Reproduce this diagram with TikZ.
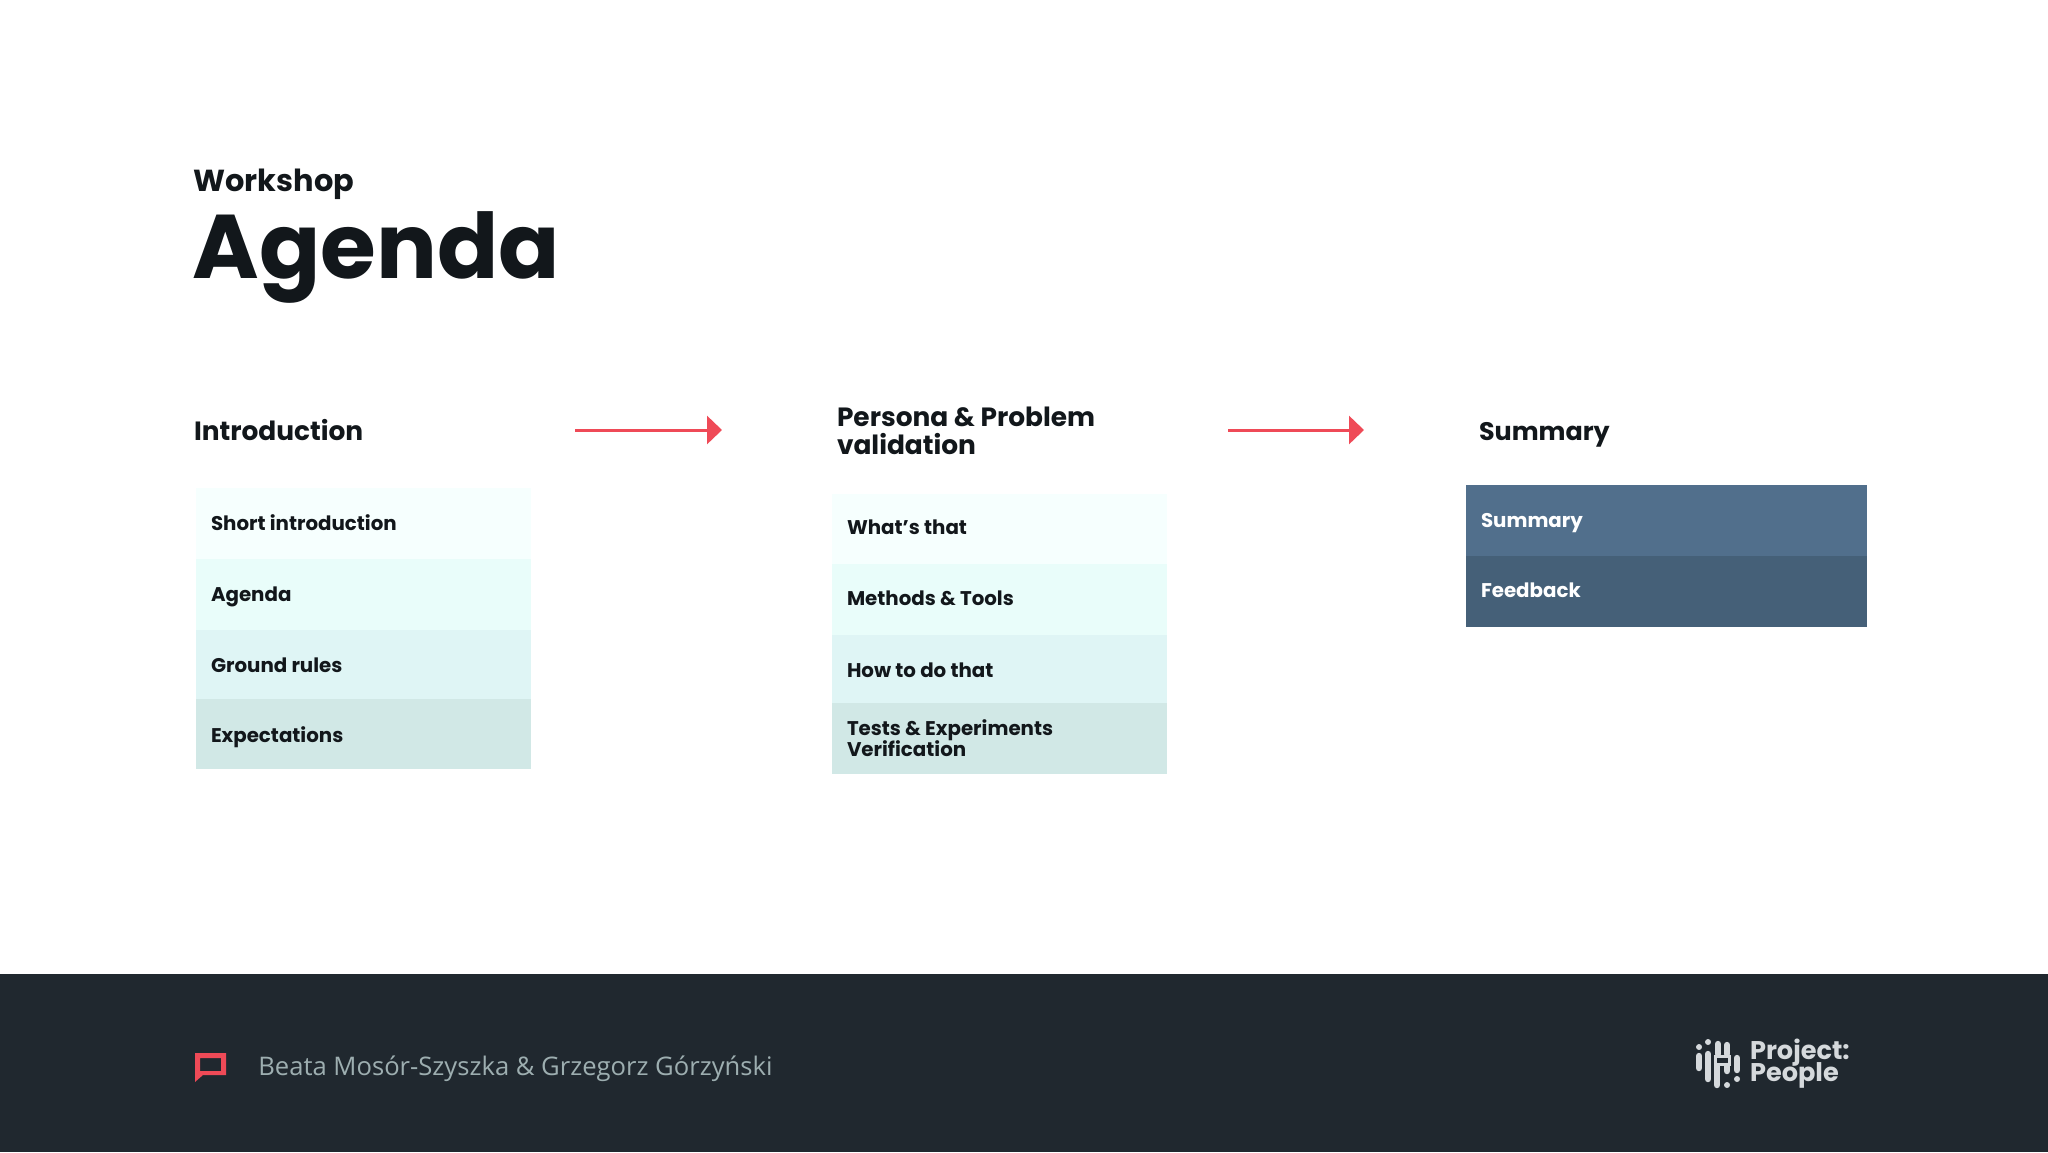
\documentclass[tikz,border=0pt]{standalone}
\usepackage{fontspec}
\setmainfont{Poppins}
\newfontfamily\footfont{Open Sans}
\usetikzlibrary{arrows.meta}
\newcommand\tightlines{\setlength{\lineskiplimit}{-20pt}}
\definecolor{inkc}{HTML}{12171B}
\definecolor{redc}{HTML}{EF4A57}
\definecolor{footc}{HTML}{20282F}
\definecolor{greyc}{HTML}{9DAEB0}
\definecolor{logoc}{HTML}{D5D9DC}
\definecolor{ta}{HTML}{F6FFFE}
\definecolor{tb}{HTML}{E9FDFA}
\definecolor{tc}{HTML}{DFF5F5}
\definecolor{td}{HTML}{D1E8E6}
\definecolor{ba}{HTML}{516F8C}
\definecolor{bb}{HTML}{456078}
\tikzset{
  x=0.5pt,y=-0.5pt,
  band/.style={fill=#1,draw=none},
  lab/.style={anchor=base west,inner sep=0pt,outer sep=0pt,font=\bfseries\fontsize{9.9}{10}\selectfont,text=inkc},
  lablight/.style={lab,text=white},
  head/.style={anchor=base west,inner sep=0pt,outer sep=0pt,align=left,font=\bfseries\fontsize{13.2}{13.8}\selectfont,text=inkc},
  flow/.style={draw=redc,line width=1.5pt,-{Triangle[length=7.5pt,width=14pt,fill=redc]}},
  logobar/.style={draw=logoc,line width=3.2pt,line cap=round},
  logodot/.style={fill=logoc,draw=none},
  logotext/.style={anchor=base west,inner sep=0pt,outer sep=0pt,align=left,font=\bfseries\fontsize{12.8}{10.8}\selectfont\tightlines,text=logoc}
}
\begin{document}
\begin{tikzpicture}
\useasboundingbox (0,0) rectangle (2048,1152);
\fill[white] (0,0) rectangle (2048,1152);
\fill[footc] (0,974) rectangle (2048,1152);
% titles
\node[anchor=base west,inner sep=0pt,font=\bfseries\fontsize{15.2}{15.5}\selectfont,text=inkc] (wk) at (193,191) {Workshop};
\node[anchor=base west,inner sep=0pt,font=\bfseries\fontsize{45.2}{45.2}\selectfont,text=inkc] (ag) at (192,278) {Agenda};
% headings
\node[head] (h1) at (194,440) {Introduction};
\node[head] (h2) at (837,454) {Persona \& Problem\\validation};
\node[head,font=\bfseries\fontsize{12.7}{13.8}\selectfont] (h3) at (1479,440) {Summary};
% column 1
\fill[band=ta] (196,488) rectangle (531,559);
\fill[band=tb] (196,559) rectangle (531,630);
\fill[band=tc] (196,630) rectangle (531,699);
\fill[band=td] (196,699) rectangle (531,769);
\node[lab] (a1) at (211,530) {Short introduction};
\node[lab] (a2) at (211,601) {Agenda};
\node[lab] (a3) at (211,672) {Ground rules};
\node[lab] (a4) at (211,742) {Expectations};
% column 2
\fill[band=ta] (832,494) rectangle (1167,564);
\fill[band=tb] (832,564) rectangle (1167,635);
\fill[band=tc] (832,635) rectangle (1167,703);
\fill[band=td] (832,703) rectangle (1167,774);
\node[lab] (b1) at (847,534) {What’s that};
\node[lab] (b2) at (847,605) {Methods \& Tools};
\node[lab] (b3) at (847,677) {How to do that};
\node[lab,align=left,font=\bfseries\fontsize{9.9}{10.3}\selectfont\tightlines] (b4) at (847,756) {Tests \& Experiments\\Verification};
% column 3
\fill[band=ba] (1466,485) rectangle (1867,556);
\fill[band=bb] (1466,556) rectangle (1867,627);
\node[lablight] (c1) at (1481,527) {Summary};
\node[lablight] (c2) at (1481,597) {Feedback};
% arrows
\coordinate (p1) at (575,430);
\coordinate (q1) at (722,430);
\coordinate (p2) at (1228,430);
\coordinate (q2) at (1364,430);
\draw[flow] (p1) -- (q1);
\draw[flow] (p2) -- (q2);
% footer
\fill[redc,even odd rule] (195,1053) -- (226,1053) -- (226,1075) -- (203,1075) -- (195,1082) -- cycle
  (200,1058) -- (200,1071) -- (221,1071) -- (221,1058) -- cycle;
\node[anchor=base west,inner sep=0pt,font=\footfont\fontsize{12.8}{14}\selectfont,text=greyc] (ft) at (258,1075) {Beata Mosór-Szyszka \& Grzegorz Górzyński};
% logo
\draw[logobar] (1699,1056) -- (1699,1068);
\draw[logobar] (1708,1054) -- (1708,1079);
\draw[logobar] (1718,1044) -- (1718,1054);
\draw[logobar] (1717,1066) -- (1717,1085);
\draw[logobar] (1727,1045) -- (1727,1054);
\draw[logobar] (1727,1066) -- (1727,1071);
\draw[logobar] (1737,1058) -- (1737,1070);
\draw[logobar,line width=1.5pt] (1715,1056) -- (1729,1056) -- (1729,1064) -- (1715,1064) -- cycle;
\fill[logodot] (1699,1047) circle (3);
\fill[logodot] (1708,1042) circle (3);
\fill[logodot] (1737,1079) circle (3);
\fill[logodot] (1727,1085) circle (3);
\node[logotext] (l1) at (1750,1081) {Project:\\People};
\end{tikzpicture}
\end{document}
